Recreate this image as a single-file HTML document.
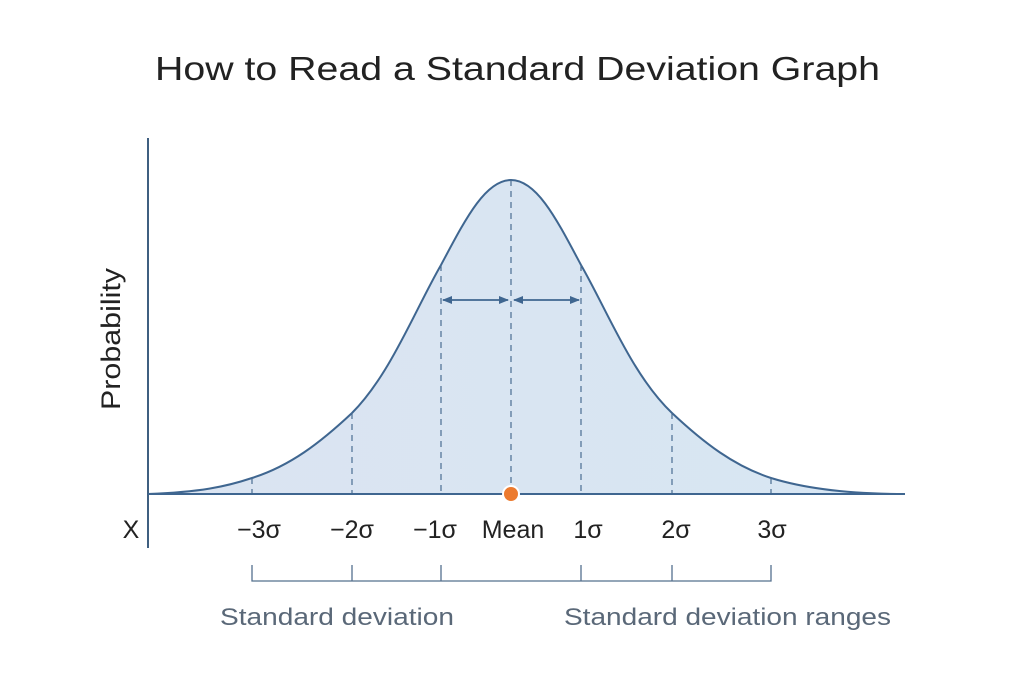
<!DOCTYPE html>
<html><head><meta charset="utf-8"><style>
html,body{margin:0;padding:0;background:#fff;}
svg{display:block;}
text{font-family:"Liberation Sans",sans-serif;}
</style></head><body>
<svg width="1024" height="683" viewBox="0 0 1024 683" xmlns="http://www.w3.org/2000/svg">
<defs>
<linearGradient id="g" x1="0" x2="1" y1="0" y2="0">
<stop offset="0" stop-color="#dbe4f1"/><stop offset="1" stop-color="#d7e6f3"/>
</linearGradient>
<marker id="ah" markerWidth="10" markerHeight="10" refX="9" refY="5" orient="auto-start-reverse" markerUnits="userSpaceOnUse">
<path d="M0,1 L10,5 L0,9 Z" fill="#3f6690"/>
</marker>
</defs>
<text x="155" y="80" font-size="33" fill="#222" textLength="725" lengthAdjust="spacingAndGlyphs">How to Read a Standard Deviation Graph</text>
<path d="M148,494 C200,492 225,487 252,478 C290,466 320,443 352,413 C390,375 415,310 441,265 C465,220 485,180 511,180 C537,180 557,220 581,265 C607,310 632,375 672,413 C704,443 734,466 771,478 C800,487 840,494 905,494 Z" fill="url(#g)"/>
<path d="M148,494 C200,492 225,487 252,478 C290,466 320,443 352,413 C390,375 415,310 441,265 C465,220 485,180 511,180 C537,180 557,220 581,265 C607,310 632,375 672,413 C704,443 734,466 771,478 C800,487 840,494 905,494" fill="none" stroke="#3f6690" stroke-width="2"/>
<g stroke="#4a6d92" stroke-width="1.2" stroke-dasharray="6,5">
<line x1="252" y1="478" x2="252" y2="494"/>
<line x1="352" y1="413" x2="352" y2="494"/>
<line x1="441" y1="265" x2="441" y2="494"/>
<line x1="511" y1="180" x2="511" y2="494"/>
<line x1="581" y1="265" x2="581" y2="494"/>
<line x1="672" y1="413" x2="672" y2="494"/>
<line x1="771" y1="478" x2="771" y2="494"/>
</g>
<g stroke="#3f6690" stroke-width="1.8">
<line x1="443" y1="300" x2="508" y2="300" marker-start="url(#ah)" marker-end="url(#ah)"/>
<line x1="514" y1="300" x2="579" y2="300" marker-start="url(#ah)" marker-end="url(#ah)"/>
</g>
<line x1="148" y1="138" x2="148" y2="548" stroke="#3f5f80" stroke-width="2"/>
<line x1="148" y1="494" x2="905" y2="494" stroke="#3f6690" stroke-width="2"/>
<circle cx="511" cy="494" r="9" fill="#fff"/>
<circle cx="511" cy="494" r="7" fill="#ec7a2e"/>
<text transform="translate(120,410) rotate(-90)" font-size="27" fill="#222" textLength="142" lengthAdjust="spacingAndGlyphs">Probability</text>
<g font-size="25" fill="#222" text-anchor="middle">
<text x="131" y="538">X</text>
<text x="259" y="538">−3σ</text>
<text x="352" y="538">−2σ</text>
<text x="435" y="538">−1σ</text>
<text x="513" y="538">Mean</text>
<text x="588" y="538">1σ</text>
<text x="676" y="538">2σ</text>
<text x="772" y="538">3σ</text>
</g>
<g stroke="#55708e" stroke-width="1.3" fill="none">
<path d="M252,565 V581 H771 V565"/>
<line x1="352" y1="565" x2="352" y2="581"/>
<line x1="441" y1="565" x2="441" y2="581"/>
<line x1="581" y1="565" x2="581" y2="581"/>
<line x1="672" y1="565" x2="672" y2="581"/>
</g>
<g font-size="24" fill="#5a6878">
<text x="220" y="625" textLength="234" lengthAdjust="spacingAndGlyphs">Standard deviation</text>
<text x="564" y="625" textLength="327" lengthAdjust="spacingAndGlyphs">Standard deviation ranges</text>
</g>
</svg>
</body></html>
